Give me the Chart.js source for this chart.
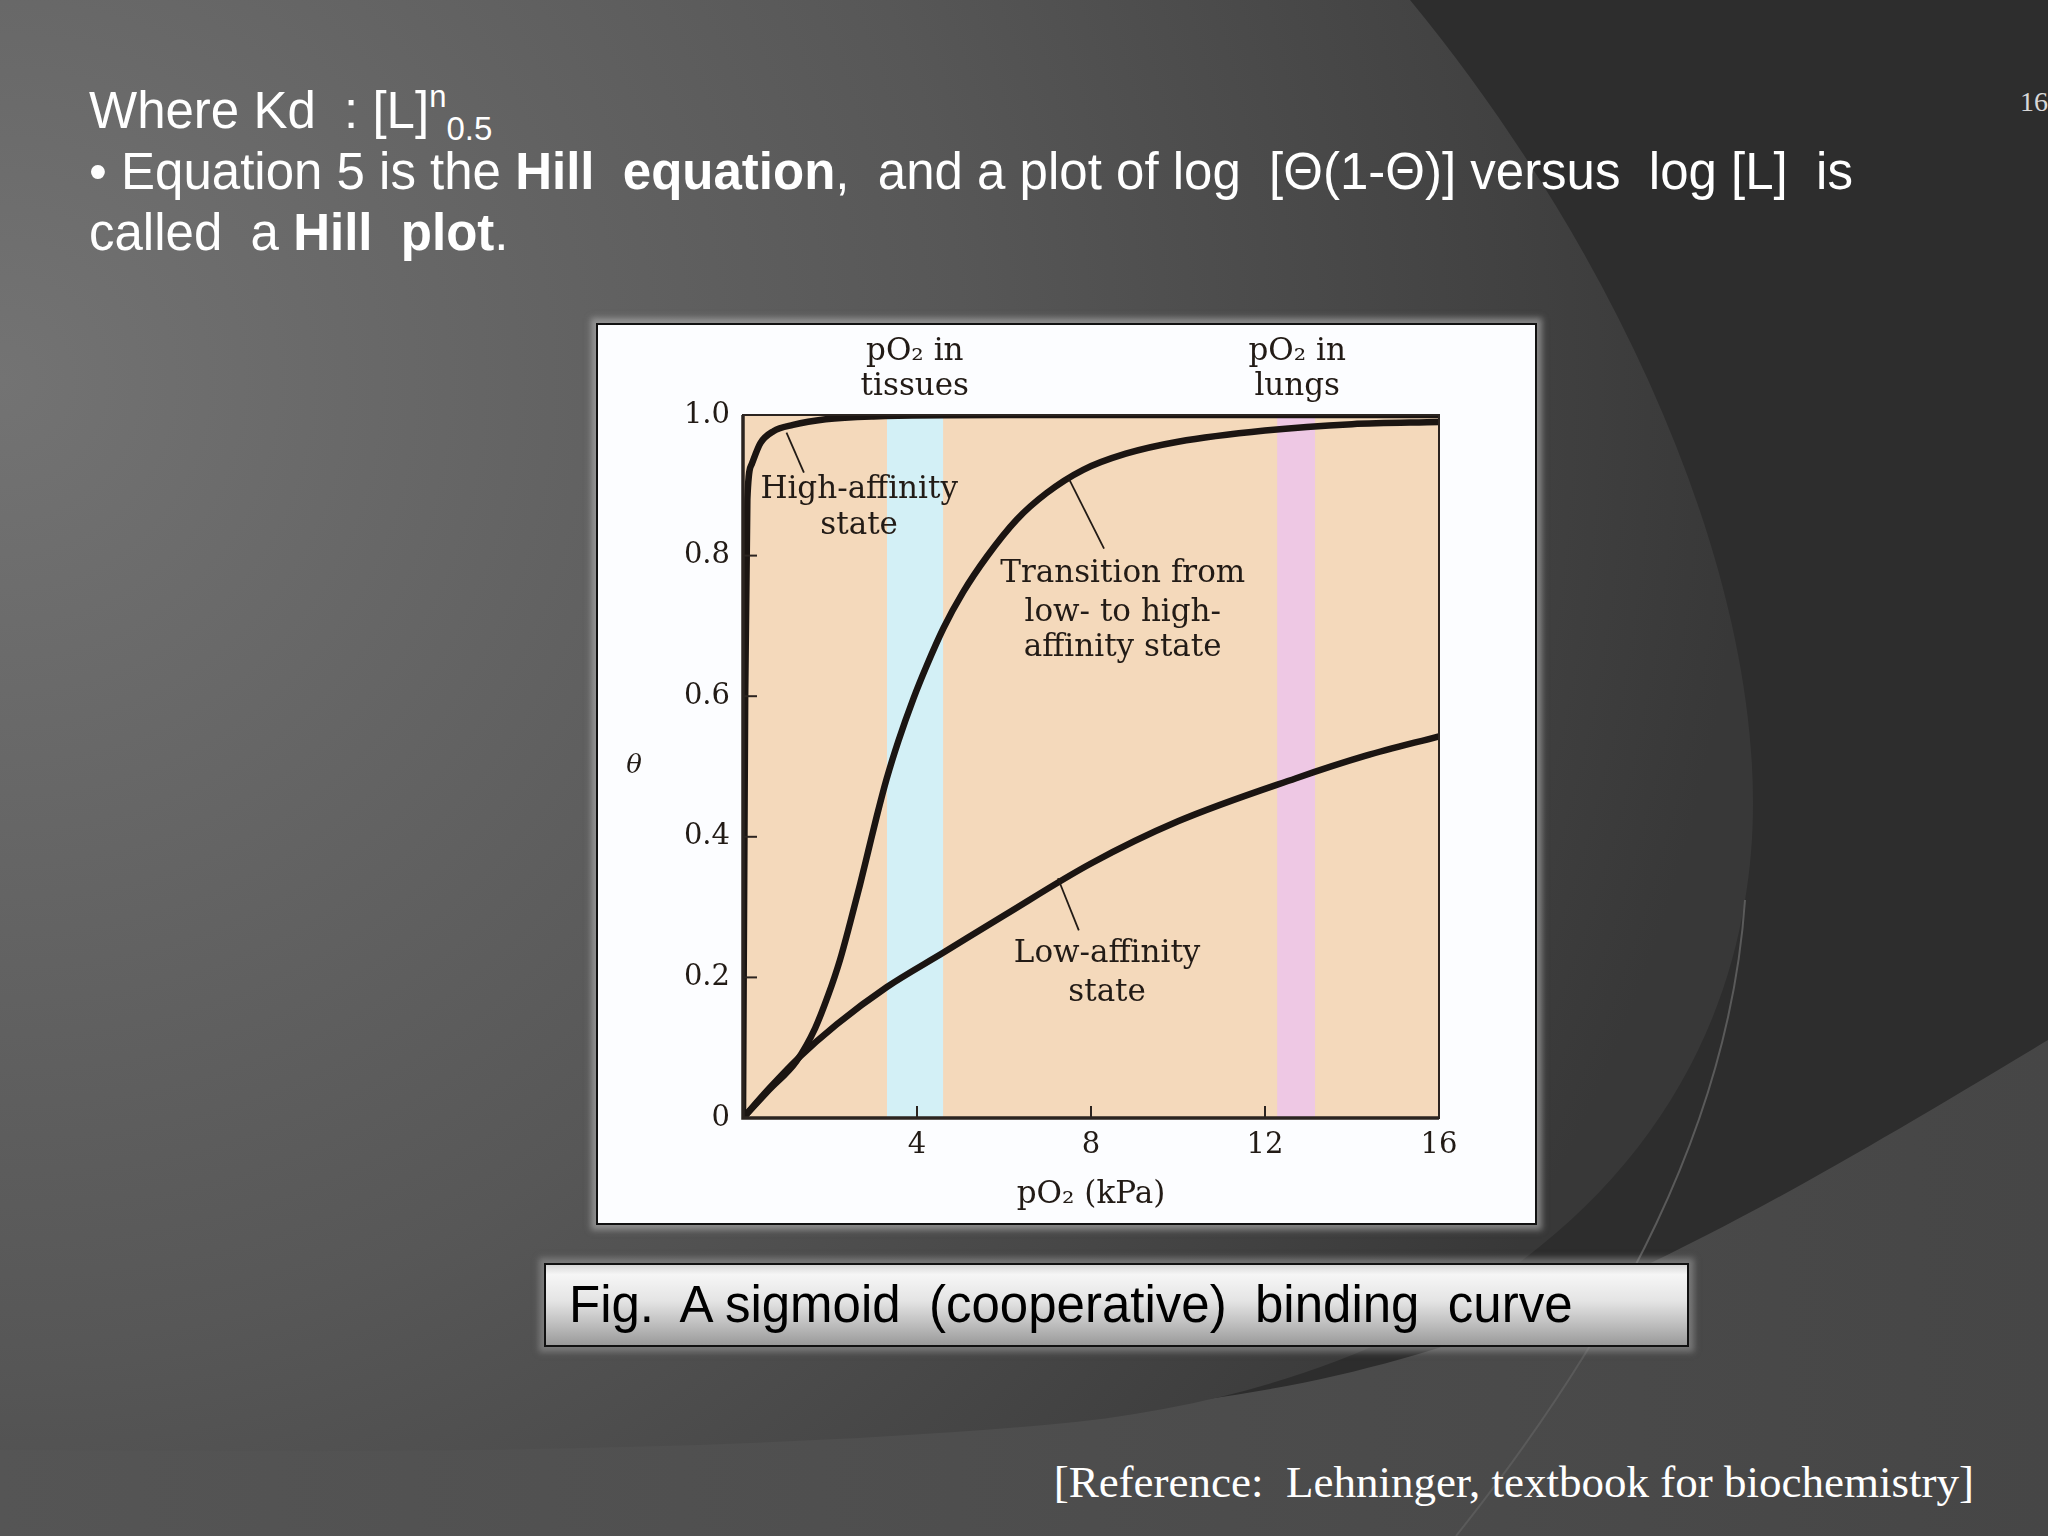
<!DOCTYPE html>
<html>
<head>
<meta charset="utf-8">
<script src="https://cdn.jsdelivr.net/npm/chart.js@4.4.0/dist/chart.umd.min.js"></script>
<style>
html, body { margin: 0; padding: 0; }
body { width: 2048px; height: 1536px; position: relative; overflow: hidden; background: #2e2e2e; font-family: "Liberation Sans", Arial, sans-serif; }
#bg { position: absolute; left: 0; top: 0; }
.line { position: absolute; left: 89px; color: #fff; font-size: 51px; line-height: 61px; white-space: pre; }
#frame { position: absolute; left: 596px; top: 323px; width: 937px; height: 898px; border: 2px solid #111; background: #fcfdff; box-shadow: 0 0 6px 5px rgba(190,190,190,0.55); }
#caption { position: absolute; left: 544px; top: 1263px; width: 1141px; height: 80px; border: 2px solid #111;
  background: linear-gradient(to bottom, #d8d8d8 0%, #f6f6f6 12%, #e4e4e4 45%, #bdbdbd 75%, #9a9a9a 100%);
  box-shadow: 0 0 6px 5px rgba(150,150,150,0.6); }
#caption span { position: absolute; left: 23px; top: 10px; font-size: 51px; color: #000; white-space: pre; }
#ref { position: absolute; right: 74px; top: 1456px; font-family: "Liberation Serif", serif; font-size: 45px; color: #fff; white-space: pre; }
#num { position: absolute; left: 2020px; top: 86px; font-family: "Liberation Serif", serif; font-size: 28px; color: #d8d8d8; }
</style>
</head>
<body>
<svg id="bg" width="2048" height="1536">
  <defs>
    <radialGradient id="inner" cx="0" cy="380" r="1750" gradientUnits="userSpaceOnUse">
      <stop offset="0" stop-color="#737373"/>
      <stop offset="0.55" stop-color="#575757"/>
      <stop offset="1" stop-color="#383838"/>
    </radialGradient>
    <linearGradient id="strip" x1="0" y1="0" x2="1" y2="0">
      <stop offset="0" stop-color="#555"/>
      <stop offset="1" stop-color="#464646"/>
    </linearGradient>
  </defs>
  <rect width="2048" height="1536" fill="#2d2d2d"/>
  <path d="M0,1440 C500,1450 900,1440 1200,1400 C1500,1360 1700,1250 2048,1040 L2048,1536 L0,1536 Z" fill="url(#strip)"/>
  <path d="M0,0 L1410,0 C1640,280 1790,640 1745,900 C1700,1180 1450,1390 1045,1425 C700,1455 300,1452 0,1450 Z" fill="url(#inner)"/>
  <path d="M1745,900 C1730,1120 1620,1330 1456,1536" fill="none" stroke="#5a5a5a" stroke-width="2"/>
</svg>

<div class="line" style="top:80px">Where Kd  : [L]<span style="font-size:31px;position:relative;top:-21px">n</span><span style="font-size:33px;position:relative;top:12px">0.5</span></div>
<div class="line" style="top:141px">• Equation 5 is the <b>Hill  equation</b>,  and a plot of log  [Θ(1-Θ)] versus  log [L]  is</div>
<div class="line" style="top:202px">called  a <b>Hill  plot</b>.</div>
<div id="num">16</div>

<div id="frame"><canvas id="myChart" width="937" height="898"></canvas></div>

<div id="caption"><span>Fig.  A sigmoid  (cooperative)  binding  curve</span></div>
<div id="ref">[Reference:  Lehninger, textbook for biochemistry]</div>

<script>
// pO2 (kPa) and fractional saturation
var highX = [0, 0.05, 0.1, 0.2, 0.4, 0.7, 1.15, 1.9, 3, 6, 10, 16];
var highY = [0, 0.6, 0.88, 0.93, 0.96, 0.977, 0.986, 0.994, 0.998, 1.0, 1.0, 1.0];

var transX = [0, 0.6, 1.23, 1.66, 1.96, 2.23, 2.46, 2.69, 2.88, 3.07, 3.3, 3.57, 3.92, 4.22, 4.61, 5.06, 5.6, 6.29, 6.98, 7.82, 8.8, 10, 12, 14, 16];
var transY = [0, 0.04, 0.081, 0.128, 0.175, 0.225, 0.277, 0.332, 0.38, 0.428, 0.482, 0.536, 0.597, 0.643, 0.697, 0.748, 0.798, 0.851, 0.889, 0.922, 0.945, 0.962, 0.978, 0.987, 0.99];

var lowX = [0, 0.6, 1.27, 2.15, 3.3, 4.6, 6, 8, 10, 12.7, 14.3, 16];
var lowY = [0, 0.042, 0.085, 0.133, 0.186, 0.235, 0.288, 0.362, 0.422, 0.483, 0.515, 0.543];

var xTickValues = [4, 8, 12, 16];
var xTickLabels = ['4', '8', '12', '16'];
var yTickValues = [0, 0.2, 0.4, 0.6, 0.8, 1.0];
var yTickLabels = ['0', '0.2', '0.4', '0.6', '0.8', '1.0'];

// shaded pO2 ranges: tissues, lungs
var bandNames = ['tissues', 'lungs'];
var bandFrom = [3.31, 12.28];
var bandTo = [4.6, 13.15];
var bandColors = ['#d3f0f6', '#eec8e4'];

function pts(xs, ys) {
    return xs.map(function (x, i) { return { x: x, y: ys[i] }; });
}

var ink = '#221b16';
var serif = '"DejaVu Serif", "Liberation Serif", serif';

function txt(ctx, s, x, y, size, style) {
    ctx.font = (style || '') + ' ' + size + 'px ' + serif;
    ctx.fillText(s, x, y);
}

var figurePlugin = {
    id: 'figure',
    beforeDatasetsDraw: function (chart) {
        var ctx = chart.ctx, a = chart.chartArea, xs = chart.scales.x;
        ctx.save();
        ctx.fillStyle = '#f4d9bb';
        ctx.fillRect(a.left, a.top, a.right - a.left, a.bottom - a.top);
        for (var i = 0; i < bandFrom.length; i++) {
            var x0 = xs.getPixelForValue(bandFrom[i]), x1 = xs.getPixelForValue(bandTo[i]);
            ctx.fillStyle = bandColors[i];
            ctx.fillRect(x0, a.top, x1 - x0, a.bottom - a.top);
        }
        ctx.restore();
    },
    afterDatasetsDraw: function (chart) {
        var ctx = chart.ctx, a = chart.chartArea, xs = chart.scales.x, ys = chart.scales.y;
        var X = function (v) { return xs.getPixelForValue(v); };
        var Y = function (v) { return ys.getPixelForValue(v); };
        ctx.save();
        // frame of the plot
        ctx.strokeStyle = '#2b2420';
        ctx.lineWidth = 2;
        ctx.strokeRect(a.left, a.top, a.right - a.left, a.bottom - a.top);
        ctx.lineWidth = 3.5;
        ctx.beginPath();
        ctx.moveTo(a.left, a.top); ctx.lineTo(a.left, a.bottom); ctx.lineTo(a.right, a.bottom);
        ctx.stroke();
        // inside tick marks
        ctx.lineWidth = 2;
        [0.2, 0.4, 0.6, 0.8].forEach(function (v) {
            ctx.beginPath(); ctx.moveTo(a.left, Y(v)); ctx.lineTo(a.left + 14, Y(v)); ctx.stroke();
        });
        [4, 8, 12].forEach(function (v) {
            ctx.beginPath(); ctx.moveTo(X(v), a.bottom); ctx.lineTo(X(v), a.bottom - 12); ctx.stroke();
        });
        // leader lines
        ctx.lineWidth = 1.8;
        ctx.strokeStyle = ink;
        [[1.0, 0.975, 1.4, 0.918], [7.47, 0.912, 8.3, 0.81], [7.24, 0.341, 7.72, 0.267]].forEach(function (l) {
            ctx.beginPath(); ctx.moveTo(X(l[0]), Y(l[1])); ctx.lineTo(X(l[2]), Y(l[3])); ctx.stroke();
        });
        // labels
        ctx.fillStyle = ink;
        ctx.textAlign = 'center';
        ctx.textBaseline = 'middle';
        txt(ctx, 'High-affinity', X(2.67), Y(0.893), 31);
        txt(ctx, 'state', X(2.67), Y(0.842), 31);
        txt(ctx, 'Transition from', X(8.73), Y(0.774), 31);
        txt(ctx, 'low- to high-', X(8.73), Y(0.719), 31);
        txt(ctx, 'affinity state', X(8.73), Y(0.668), 31);
        txt(ctx, 'Low-affinity', X(8.37), Y(0.233), 31);
        txt(ctx, 'state', X(8.37), Y(0.178), 31);
        txt(ctx, 'pO₂ in', X(3.95), Y(1.09), 31);
        txt(ctx, 'tissues', X(3.95), Y(1.04), 31);
        txt(ctx, 'pO₂ in', X(12.74), Y(1.09), 31);
        txt(ctx, 'lungs', X(12.74), Y(1.04), 31);
        txt(ctx, 'θ', a.left - 109, Y(0.5), 26, 'italic');
        ctx.restore();
    }
};

var curveStyle = { borderColor: '#1b1512', borderWidth: 6.5, pointRadius: 0, fill: false, cubicInterpolationMode: 'monotone' };

new Chart('myChart', {
    type: 'line',
    data: {
        datasets: [
            Object.assign({ label: 'High-affinity state', data: pts(highX, highY) }, curveStyle),
            Object.assign({ label: 'Transition from low- to high-affinity state', data: pts(transX, transY) }, curveStyle),
            Object.assign({ label: 'Low-affinity state', data: pts(lowX, lowY) }, curveStyle)
        ]
    },
    options: {
        responsive: false,
        animation: false,
        layout: { padding: { top: 90, right: 96, left: 0, bottom: 0 } },
        plugins: { legend: { display: false }, tooltip: { enabled: false } },
        scales: {
            x: {
                type: 'linear', min: 0, max: 16,
                afterFit: function (s) { s.height = 105; },
                afterBuildTicks: function (s) { s.ticks = [0].concat(xTickValues).map(function (v) { return { value: v }; }); },
                ticks: {
                    maxRotation: 0, padding: 10, color: ink,
                    font: { family: serif, size: 29 },
                    callback: function (v) { var i = xTickValues.indexOf(v); return i < 0 ? '' : xTickLabels[i]; }
                },
                grid: { display: false, drawTicks: false },
                border: { display: false },
                title: { display: true, text: 'pO₂ (kPa)', color: ink, font: { family: serif, size: 31 }, padding: { top: 0, bottom: 9 } }
            },
            y: {
                min: 0, max: 1,
                afterFit: function (s) { s.width = 145; },
                afterBuildTicks: function (s) { s.ticks = yTickValues.map(function (v) { return { value: v }; }); },
                ticks: {
                    padding: 13, color: ink,
                    font: { family: serif, size: 29 },
                    callback: function (v) { var i = yTickValues.indexOf(Math.round(v * 10) / 10); return i < 0 ? '' : yTickLabels[i]; }
                },
                grid: { display: false, drawTicks: false },
                border: { display: false }
            }
        }
    },
    plugins: [figurePlugin]
});
</script>
</body>
</html>
